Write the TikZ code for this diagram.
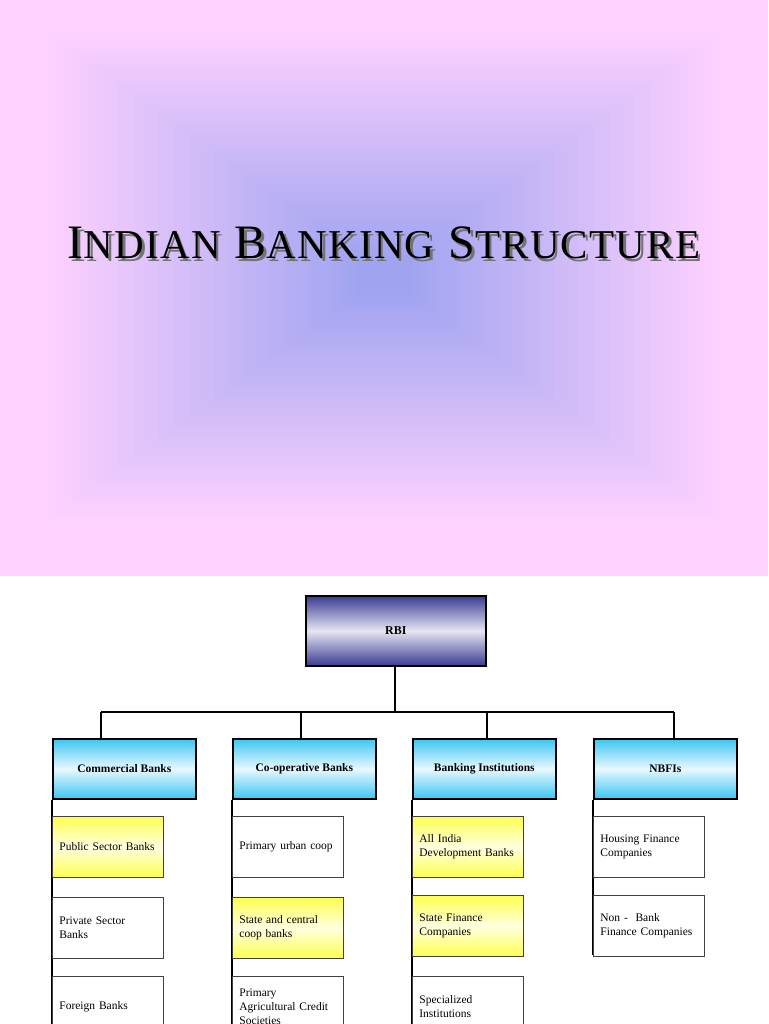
\documentclass[tikz,border=0pt]{standalone}
\usepackage{fontspec}
\setmainfont{Liberation Serif}
\definecolor{pinkbg}{HTML}{FFD2FF}
\definecolor{bluebg}{HTML}{A0A4F0}
\definecolor{rbidark}{HTML}{3A3A92}
\definecolor{rbilight}{HTML}{E6E6F2}
\definecolor{cyandark}{HTML}{3CC6F2}
\definecolor{cyanlight}{HTML}{E8F8FF}
\definecolor{yel}{HTML}{FFFF50}
\definecolor{yellight}{HTML}{FFFFE0}
\newcommand{\tcap}[2]{{\fontsize{48}{48}\selectfont #1}{\fontsize{41}{41}\selectfont #2}}
\newcommand{\titletext}{\addfontfeatures{LetterSpace=3}\tcap{I}{NDIAN}\hspace{14pt}\tcap{B}{ANKING}\hspace{14pt}\tcap{S}{TRUCTURE}}
\tikzset{
  rbibox/.style={draw=black,line width=1.6pt,top color=rbidark,bottom color=rbidark,middle color=rbilight,minimum width=180pt,minimum height=70pt,anchor=north west,font=\bfseries\fontsize{12}{14}\selectfont},
  catbox/.style={draw=black,line width=1.6pt,top color=cyandark,bottom color=cyandark,middle color=cyanlight,minimum width=143pt,minimum height=60pt,anchor=north west,font=\bfseries\fontsize{11.5}{14}\selectfont},
  subbox/.style={draw=black!75,line width=0.8pt,fill=white,minimum height=61pt,text width=97pt,inner xsep=7pt,align=left,anchor=north west,font=\fontsize{11.5}{14}\selectfont},
  ysub/.style={subbox,top color=yel,bottom color=yel,middle color=yellight},
  link/.style={line width=1.6pt,black}
}
\begin{document}
\begin{tikzpicture}[x=1pt,y=-1pt]
\useasboundingbox (0,0) rectangle (768,1024);
\fill[white] (0,0) rectangle (768,1024);
\fill[pinkbg] (0,0) rectangle (768,576);
\foreach \i in {0,...,40}{
  \pgfmathsetmacro{\t}{\i/40}
  \pgfmathsetmacro{\p}{100*\t}
  \pgfmathsetmacro{\hw}{345*(1-0.92*\t)}
  \pgfmathsetmacro{\hh}{250*(1-0.92*\t)}
  \fill[bluebg!\p!pinkbg] (384-\hw,275-\hh) rectangle (384+\hw,275+\hh);
}
\node[text=black!55,inner sep=0pt] (titleshadow) at (386.5,246) {\titletext};
\node[text=black,inner sep=0pt] (title) at (384,243) {\titletext};
% chart
\node[rbibox] (rbi) at (305,595) {RBI};
\node[catbox] (cb) at (52,738) {Commercial Banks};
\node[catbox] (co) at (232,738) {Co-operative Banks};
\node[catbox] (bi) at (412,738) {Banking Institutions};
\node[catbox] (nb) at (593,738) {NBFIs};
\coordinate (bus) at (395,712);
\draw[link] (rbi.south -| bus) -- (bus);
\draw[link] (101,712) -- (674,712);
\draw[link] (101,712) -- (cb.north -| 101,0);
\draw[link] (301,712) -- (co.north -| 301,0);
\draw[link] (487,712) -- (bi.north -| 487,0);
\draw[link] (674,712) -- (nb.north -| 674,0);
\coordinate (cbend) at (52,1024);
\coordinate (coend) at (232,1024);
\coordinate (biend) at (412,1024);
\coordinate (nbend) at (593,955);
\draw[link] (cb.south west) -- (cbend);
\draw[link] (co.south west) -- (coend);
\draw[link] (bi.south west) -- (biend);
\draw[link] (nb.south west) -- (nbend);
% sub boxes
\node[ysub] (c1) at (52,816) {Public Sector Banks};
\node[subbox] (c2) at (52,897) {Private Sector\\Banks};
\node[subbox] (c3) at (52,976) {Foreign Banks};
\node[subbox] (o1) at (232,816) {Primary urban coop};
\node[ysub] (o2) at (232,897) {State and central\\coop banks};
\node[subbox] (o3) at (232,976) {Primary\\Agricultural Credit\\Societies};
\node[ysub] (b1) at (412,816) {All India\\Development Banks};
\node[ysub] (b2) at (412,895) {State Finance\\Companies};
\node[subbox] (b3) at (412,976) {Specialized\\Institutions};
\node[subbox] (n1) at (593,816) {Housing Finance\\Companies};
\node[subbox] (n2) at (593,895) {Non -~ Bank\\Finance Companies};
\end{tikzpicture}
\end{document}
